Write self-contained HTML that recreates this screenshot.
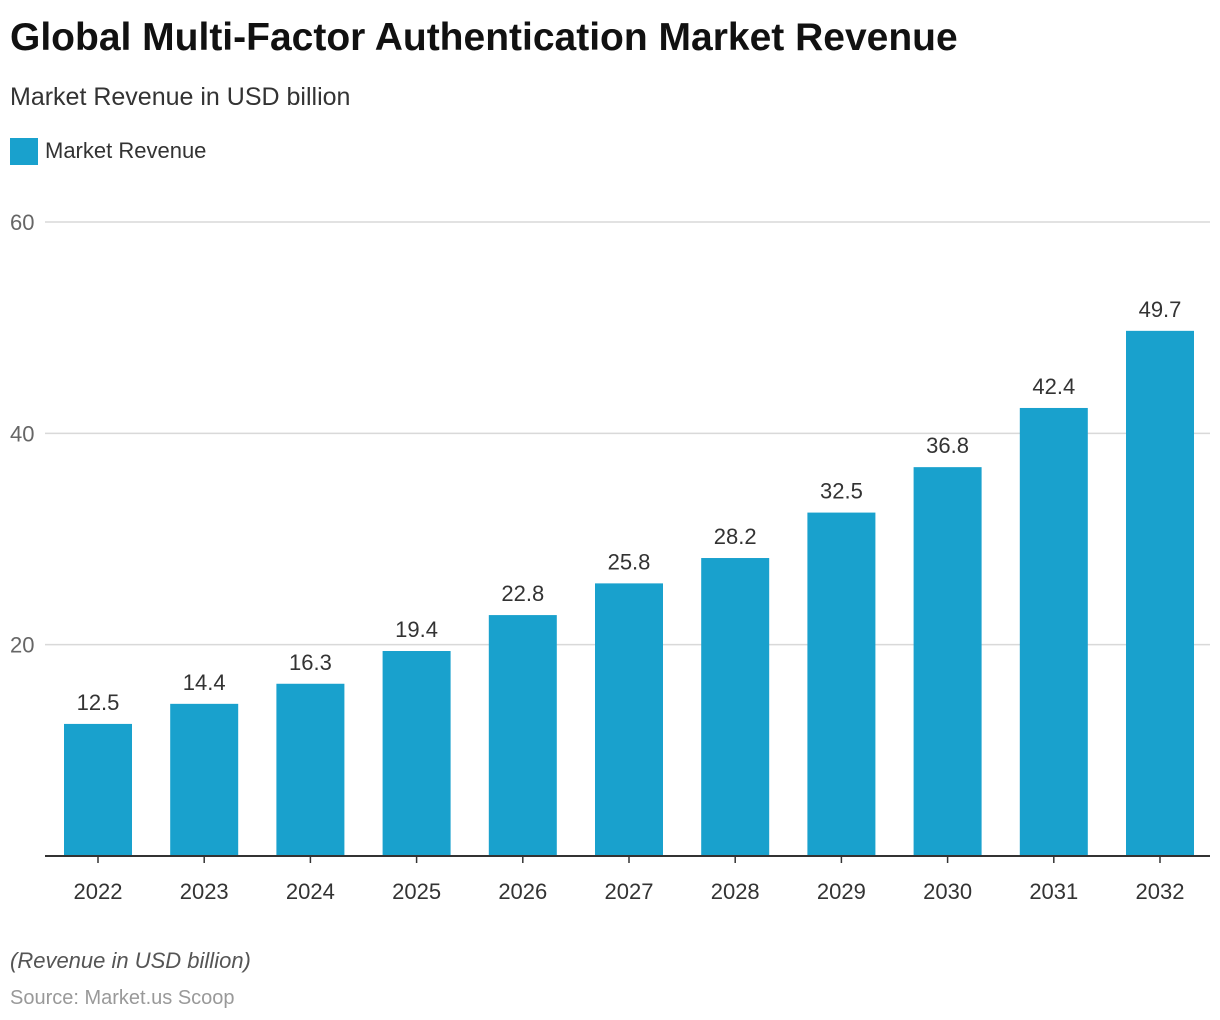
<!DOCTYPE html>
<html><head><meta charset="utf-8"><style>
body{margin:0;background:#fff;font-family:"Liberation Sans",Arial,sans-serif;}
svg{display:block}
</style></head><body>
<svg width="1220" height="1020">
<text x="10" y="50" font-size="39" font-weight="bold" fill="#111">Global Multi-Factor Authentication Market Revenue</text>
<text x="10" y="105" font-size="25" fill="#333">Market Revenue in USD billion</text>
<rect x="10" y="138" width="28" height="27" fill="#19a1cd"/>
<text x="45" y="158" font-size="22" fill="#333">Market Revenue</text>
<g id="grid"></g>
<g id="bars"></g>
<text x="10" y="968" font-size="22" font-style="italic" fill="#555">(Revenue in USD billion)</text>
<text x="10" y="1004" font-size="20" fill="#999">Source: Market.us Scoop</text>
</svg>
<script>
const categories=["2022","2023","2024","2025","2026","2027","2028","2029","2030","2031","2032"];
const values=[12.5,14.4,16.3,19.4,22.8,25.8,28.2,32.5,36.8,42.4,49.7];
const yTicks=[20,40,60];
const NS="http://www.w3.org/2000/svg";
const y0=856,pxPerUnit=(856-222)/60;
const y=v=>y0-v*pxPerUnit;
const x=i=>98+i*106.2;
const grid=document.getElementById('grid'),bars=document.getElementById('bars');
function mk(tag,attrs,parent,txt){const e=document.createElementNS(NS,tag);for(const k in attrs)e.setAttribute(k,attrs[k]);if(txt!=null)e.textContent=txt;parent.appendChild(e);return e;}
yTicks.forEach(t=>{
 const l=mk('line',{x1:45,x2:1210,y1:y(t),y2:y(t),stroke:'#d9d9d9','stroke-width':1.5},grid);
 
 
 const tx=mk('text',{x:10,y:y(t)+8,'font-size':22,fill:'#666'},grid,String(t));
 
 
});
categories.forEach((c,i)=>{
 const v=values[i];
 const r=mk('rect',{x:x(i)-34,y:y(v),width:68,height:y0-y(v),fill:'#19a1cd'},bars);
 
 
 const lb=mk('text',{x:x(i),y:y(v)-14,'font-size':22,fill:'#333','text-anchor':'middle'},bars,v.toFixed(1));
 
 
 const tk=mk('line',{x1:x(i),x2:x(i),y1:y0,y2:y0+7,stroke:'#333','stroke-width':1.5},bars);
 
 
 const xl=mk('text',{x:x(i),y:899,'font-size':22,fill:'#333','text-anchor':'middle'},bars,c);
 
 
});
const ax=mk('line',{x1:45,x2:1210,y1:y0,y2:y0,stroke:'#333','stroke-width':2},bars);


</script>
</body></html>
